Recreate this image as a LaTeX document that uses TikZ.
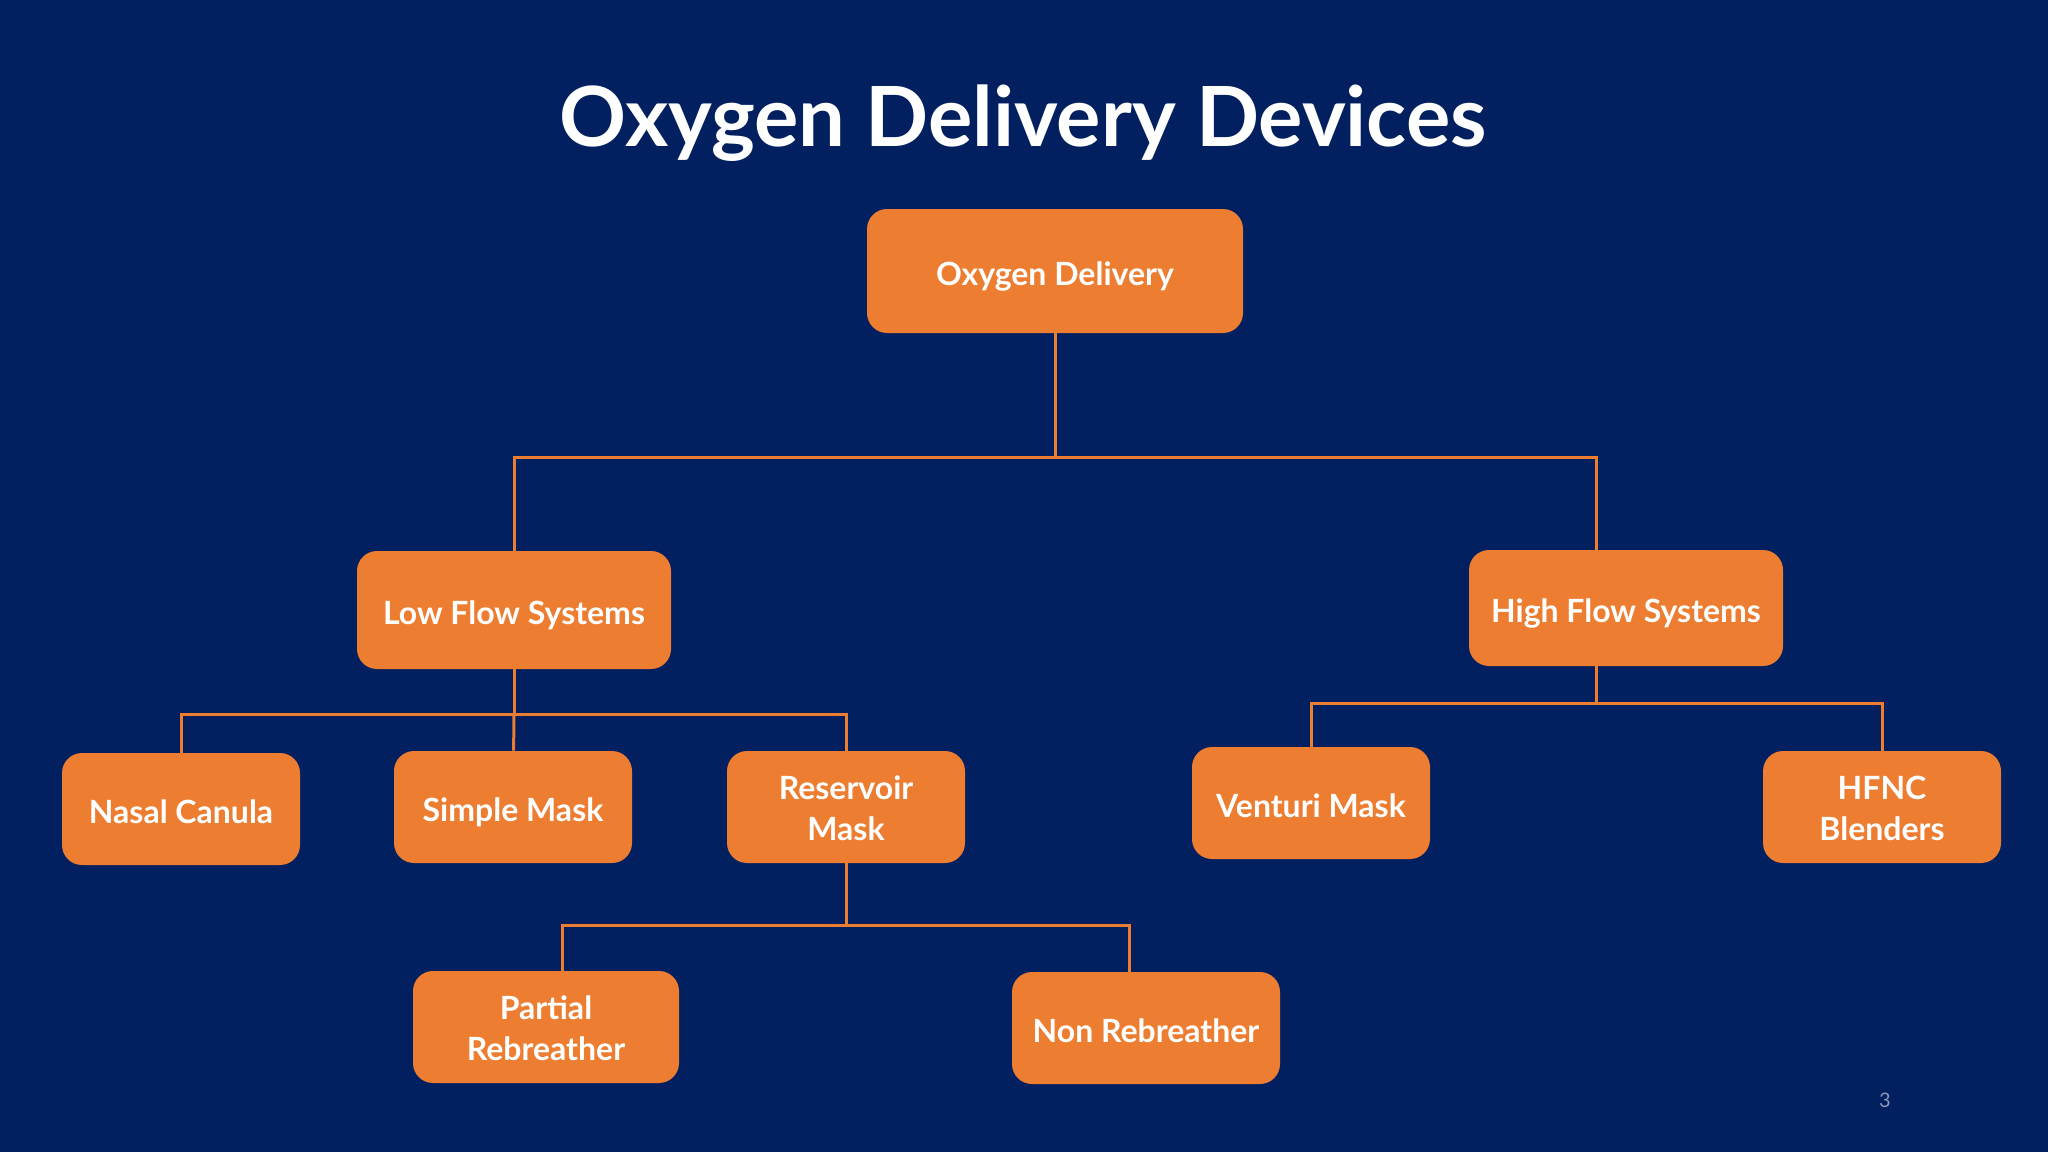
\documentclass[tikz,border=0pt]{standalone}
\usepackage{fontspec}
\setmainfont{Lato}
\usetikzlibrary{positioning, calc}
\definecolor{slidebg}{HTML}{021F5F}
\definecolor{boxorange}{HTML}{ED7D31}
\definecolor{pagegray}{HTML}{8A96B4}
\tikzset{device/.style={fill=boxorange, rounded corners=10pt, text=white, align=center, inner sep=0pt,
  font=\bfseries\fontsize{16}{20.5}\selectfont,
  execute at begin node={\rule[-4pt]{0pt}{22pt}}}}
\tikzset{device2/.style={device, execute at begin node={\rule[-4pt]{0pt}{41.5pt}}}}
\tikzset{link/.style={draw=boxorange, line width=1.5pt}}
\tikzset{title/.style={text=white, font=\bfseries\fontsize{41.5}{50}\selectfont}}

\begin{document}
\begin{tikzpicture}[x=0.5pt, y=-0.5pt]

\fill[slidebg] (0,0) rectangle (2048,1152);
\useasboundingbox (0,0) rectangle (2048,1152);

\node[title, anchor=base] (heading) at (1023,146) {Oxygen Delivery Devices};

\node[device, minimum width=188pt, minimum height=62pt] (root) at (1055,271) {Oxygen Delivery};
\node[device, minimum width=157pt, minimum height=59pt] (low) at (514,610) {Low Flow Systems};
\node[device, minimum width=157pt, minimum height=58pt] (high) at (1626,608) {High Flow Systems};

\node[device, minimum width=119pt, minimum height=56pt] (nasal) at (181,809) {Nasal Canula};
\node[device, minimum width=119pt, minimum height=56pt] (simple) at (513,807) {Simple Mask};
\node[device2, minimum width=119pt, minimum height=56pt] (reservoir) at (846,807) {Reservoir\\Mask};
\node[device, minimum width=119pt, minimum height=56pt] (venturi) at (1311,803) {Venturi Mask};
\node[device2, minimum width=119pt, minimum height=56pt] (hfnc) at (1882,807) {HFNC\\Blenders};

\node[device2, minimum width=133pt, minimum height=56pt] (partial) at (546,1027) {Partial\\Rebreather};
\node[device, minimum width=134pt, minimum height=56pt] (nonreb) at (1146,1028) {Non Rebreather};

\node[text=pagegray, font=\fontsize{10}{12}\selectfont] (pagenum) at (1885,1100) {3};

% junction points of the tree
\coordinate (j_root) at (1055,457);
\coordinate (j_low) at (514,714);
\coordinate (j_high) at (1596,703);
\coordinate (j_res) at (846,925);

\draw[link] (root) -- (j_root);
\draw[link] (j_root) -| (low);
\draw[link] (j_root) -| (high.north -| j_high);

\draw[link] (low) -- (j_low);
\draw[link] (j_low) -| (nasal);
\draw[link] (j_low) -- (simple);
\draw[link] (j_low) -| (reservoir);

\draw[link] (high.south -| j_high) -- (j_high);
\draw[link] (j_high) -| (venturi);
\draw[link] (j_high) -| (hfnc);

\draw[link] (reservoir) -- (j_res);
\draw[link] (j_res) -| ($(partial.north west)!0.56!(partial.north east)$);
\draw[link] (j_res) -| ($(nonreb.north west)!0.44!(nonreb.north east)$);

\end{tikzpicture}
\end{document}
